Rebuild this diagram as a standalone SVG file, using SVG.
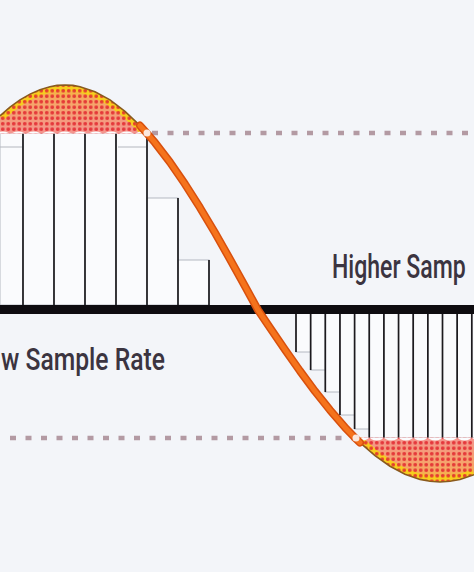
<svg xmlns="http://www.w3.org/2000/svg" width="474" height="572" viewBox="0 0 474 572">
<style>
.bar{fill:#fafbfd;stroke:#aeb2ba;stroke-width:0.9}
.stem{stroke:#1c1a1e;stroke-width:1.7}
.cap{stroke:#b4b7be;stroke-width:1}
.dots{fill:none;stroke:#b39aa3;stroke-width:4.5;stroke-dasharray:6 9.5}
.lbl{font-family:Roboto,"Liberation Sans",sans-serif;font-weight:500;fill:#3b3440}
</style>
<defs>
<path id="curve" d="M0,115.8 L10,107.1 L20,99.9 L30,94.1 L40,89.7 L50,86.7 L57,85.4 L65,85 L73,85.4 L80,86.7 L95,91.7 L110,99.9 L125,111.3 L140,125.6 L147,133.4 L155,142.7 L170,162.3 L185,184.1 L200,207.7 L215,232.8 L230,259.2 L245,286.2 L258,310 L270,327.8 L285,349.7 L300,371 L315,391.3 L330,410.1 L345,427.4 L355,437.8 L360,442.6 L375,455.6 L390,466.2 L405,474.2 L420,479.4 L430,481.3 L440,482 L450,481.3 L460,479.5 L474,474.7"/>
<clipPath id="topClip"><path d="M0,115.8 L10,107.1 L20,99.9 L30,94.1 L40,89.7 L50,86.7 L57,85.4 L65,85 L73,85.4 L80,86.7 L95,91.7 L110,99.9 L125,111.3 L140,125.6 L147,133.4 L0,133.4 Z"/></clipPath>
<clipPath id="botClip"><path d="M355,437.8 L360,442.6 L375,455.6 L390,466.2 L405,474.2 L420,479.4 L430,481.3 L440,482 L450,481.3 L460,479.5 L474,474.7 L474,437.8 Z"/></clipPath>
<linearGradient id="gTop" gradientUnits="userSpaceOnUse" x1="0" y1="85" x2="0" y2="134">
<stop offset="0" stop-color="#f5c02a"/><stop offset="0.3" stop-color="#f6a865"/><stop offset="1" stop-color="#f49590"/>
</linearGradient>
<linearGradient id="gBot" gradientUnits="userSpaceOnUse" x1="0" y1="437" x2="0" y2="482">
<stop offset="0" stop-color="#f49590"/><stop offset="0.7" stop-color="#f6a865"/><stop offset="1" stop-color="#f5c02a"/>
</linearGradient>
<pattern id="dotPat" patternUnits="userSpaceOnUse" width="5.5" height="5.5">
<circle cx="2.75" cy="2.75" r="1.9" fill="#e2262e" fill-opacity="0.85"/>
</pattern>
</defs>
<rect width="474" height="572" fill="#f3f5f9"/>

<g id="low-rate-bars">
<rect class="bar" x="0" y="133" width="23" height="172"/>
<rect class="bar" x="23" y="133" width="31" height="172"/>
<rect class="bar" x="54" y="133" width="31" height="172"/>
<rect class="bar" x="85" y="133" width="31" height="172"/>
<rect class="bar" x="116" y="133" width="31" height="172"/>
<rect class="bar" x="147" y="198" width="31" height="107"/>
<rect class="bar" x="178" y="260" width="31" height="45"/>
<line class="cap" x1="0" y1="147" x2="22" y2="147"/>
<line class="cap" x1="118" y1="147" x2="146" y2="147"/>
<line class="stem" x1="23" y1="133" x2="23" y2="306"/>
<line class="stem" x1="54" y1="133" x2="54" y2="306"/>
<line class="stem" x1="85" y1="133" x2="85" y2="306"/>
<line class="stem" x1="116" y1="133" x2="116" y2="306"/>
<line class="stem" x1="147" y1="133" x2="147" y2="306"/>
<line class="stem" x1="178" y1="198" x2="178" y2="306"/>
<line class="stem" x1="209" y1="260" x2="209" y2="306"/>
</g>

<g id="high-rate-bars">
<rect class="bar" x="296" y="313" width="14.65" height="39"/>
<rect class="bar" x="310.65" y="313" width="14.65" height="57"/>
<rect class="bar" x="325.3" y="313" width="14.65" height="79"/>
<rect class="bar" x="339.95" y="313" width="14.65" height="102"/>
<rect class="bar" x="354.6" y="313" width="14.65" height="116"/>
<rect class="bar" x="369.25" y="313" width="14.65" height="125"/>
<rect class="bar" x="383.9" y="313" width="14.65" height="125"/>
<rect class="bar" x="398.55" y="313" width="14.65" height="125"/>
<rect class="bar" x="413.2" y="313" width="14.65" height="125"/>
<rect class="bar" x="427.85" y="313" width="14.65" height="125"/>
<rect class="bar" x="442.5" y="313" width="14.65" height="125"/>
<rect class="bar" x="457.15" y="313" width="14.65" height="125"/>
<rect class="bar" x="471.8" y="313" width="14.65" height="125"/>
<line class="stem" x1="296" y1="313" x2="296" y2="352"/>
<line class="stem" x1="310.65" y1="313" x2="310.65" y2="370"/>
<line class="stem" x1="325.3" y1="313" x2="325.3" y2="392"/>
<line class="stem" x1="339.95" y1="313" x2="339.95" y2="415"/>
<line class="stem" x1="354.6" y1="313" x2="354.6" y2="429"/>
<line class="stem" x1="369.25" y1="313" x2="369.25" y2="438"/>
<line class="stem" x1="383.9" y1="313" x2="383.9" y2="438"/>
<line class="stem" x1="398.55" y1="313" x2="398.55" y2="438"/>
<line class="stem" x1="413.2" y1="313" x2="413.2" y2="438"/>
<line class="stem" x1="427.85" y1="313" x2="427.85" y2="438"/>
<line class="stem" x1="442.5" y1="313" x2="442.5" y2="438"/>
<line class="stem" x1="457.15" y1="313" x2="457.15" y2="438"/>
<line class="stem" x1="471.8" y1="313" x2="471.8" y2="438"/>
</g>

<g id="axis">
<rect x="0" y="305" width="474" height="9" fill="#0e0c10"/>
</g>

<g id="clipped-top">
<rect x="0" y="80" width="150" height="56" fill="url(#gTop)" clip-path="url(#topClip)"/>
<use href="#curve" fill="none" stroke="#f6cf1e" stroke-width="11" clip-path="url(#topClip)"/>
<rect x="0" y="80" width="150" height="56" fill="url(#dotPat)" clip-path="url(#topClip)"/>
<path clip-path="url(#topClip)" fill="#fbfcfe" d="M-5,135.5 a7.75,4 0 0 1 15.5,0 a7.75,4 0 0 1 15.5,0 a7.75,4 0 0 1 15.5,0 a7.75,4 0 0 1 15.5,0 a7.75,4 0 0 1 15.5,0 a7.75,4 0 0 1 15.5,0 a7.75,4 0 0 1 15.5,0 a7.75,4 0 0 1 15.5,0 a7.75,4 0 0 1 15.5,0 a7.75,4 0 0 1 15.5,0 L150,140 L-5,140 Z"/>
</g>

<g id="clipped-bottom">
<rect x="350" y="434" width="124" height="52" fill="url(#gBot)" clip-path="url(#botClip)"/>
<use href="#curve" fill="none" stroke="#f6cf1e" stroke-width="11" clip-path="url(#botClip)"/>
<rect x="350" y="434" width="124" height="52" fill="url(#dotPat)" clip-path="url(#botClip)"/>
<path clip-path="url(#botClip)" fill="#fbfcfe" d="M340,436.5 a7.325,4 0 0 0 14.65,0 a7.325,4 0 0 0 14.65,0 a7.325,4 0 0 0 14.65,0 a7.325,4 0 0 0 14.65,0 a7.325,4 0 0 0 14.65,0 a7.325,4 0 0 0 14.65,0 a7.325,4 0 0 0 14.65,0 a7.325,4 0 0 0 14.65,0 a7.325,4 0 0 0 14.65,0 a7.325,4 0 0 0 14.65,0 L486,432 L340,432 Z"/>
</g>

<g id="thresholds">
<line class="dots" x1="152" y1="133" x2="474" y2="133"/>
<line class="dots" x1="10" y1="438" x2="352" y2="438"/>
</g>

<g id="wave">
<use href="#curve" fill="none" stroke="#8a5a1e" stroke-width="1.6"/>
<path d="M140,125.6 L147,133.4 L155,142.7 L170,162.3 L185,184.1 L200,207.7 L215,232.8 L230,259.2 L245,286.2 L258,310 L270,327.8 L285,349.7 L300,371 L315,391.3 L330,410.1 L345,427.4 L355,437.8 L360,442.6" fill="none" stroke="#d8500e" stroke-width="8" stroke-linejoin="round" stroke-linecap="round"/>
<path d="M140,125.6 L147,133.4 L155,142.7 L170,162.3 L185,184.1 L200,207.7 L215,232.8 L230,259.2 L245,286.2 L258,310 L270,327.8 L285,349.7 L300,371 L315,391.3 L330,410.1 L345,427.4 L355,437.8 L360,442.6" fill="none" stroke="#f5731c" stroke-width="5" stroke-linejoin="round" stroke-linecap="round"/>
<circle cx="147" cy="133" r="3.5" fill="#fbfcfe" opacity="0.85"/>
<circle cx="356" cy="438" r="3.5" fill="#fbfcfe" opacity="0.85"/>
</g>

<g id="labels">
<g transform="translate(332,278) scale(0.7,1)">
<text class="lbl" x="0" y="0" font-size="34" textLength="191" lengthAdjust="spacingAndGlyphs">Higher Samp</text>
</g>
<g transform="translate(1,370) scale(0.77,1)">
<text class="lbl" x="0" y="0" font-size="32" textLength="213" lengthAdjust="spacingAndGlyphs">w Sample Rate</text>
</g>
</g>
</svg>
